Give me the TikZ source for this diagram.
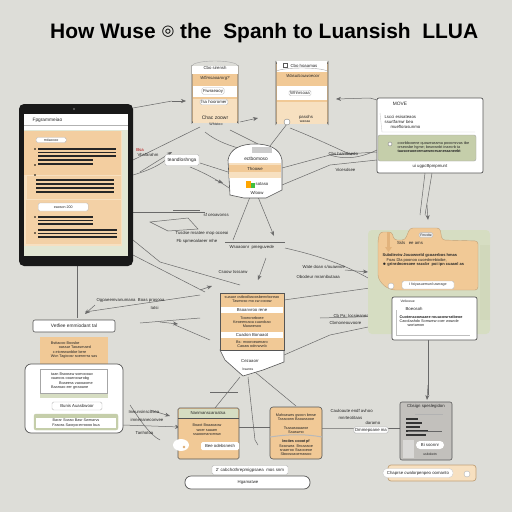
\documentclass[tikz,border=0pt]{standalone}
\usepackage{fontspec}
\setmainfont{Liberation Sans}
\newfontfamily\symf{DejaVu Sans}
\usetikzlibrary{arrows.meta,calc}
\definecolor{bg}{RGB}{221,221,216}
\definecolor{peach}{RGB}{241,201,150}
\definecolor{lpeach}{RGB}{247,224,192}
\definecolor{lgreen}{RGB}{214,221,194}
\definecolor{dgreen}{RGB}{197,206,170}
\definecolor{gbox}{RGB}{194,192,188}
\definecolor{lin}{RGB}{105,105,105}
\definecolor{bord}{RGB}{85,85,85}
\tikzset{
  tx/.style={font=\fontsize{4.3}{5}\selectfont, inner sep=0.4pt, text=black!85},
  wlab/.style={tx, fill=white, draw=gray!55, rounded corners=1.5pt, inner sep=1.2pt},
  conn/.style={draw=lin, line width=0.5pt},
  arr/.style={conn, -{Stealth[length=5pt,width=4pt]}},
  bar/.style={line width=1.7pt, draw=black!85},
  ghost/.style={inner sep=0pt, draw=none}
}
\begin{document}
\begin{tikzpicture}[x=1pt,y=-1pt]
\fill[bg] (0,0) rectangle (512,512);
\useasboundingbox (0,0) rectangle (512,512);

% ---------- title
\node[anchor=west, inner sep=0pt] (title) at (50,33) {\resizebox{428pt}{!}{\bfseries How Wuse {\symf\fontsize{7}{7}\selectfont\raisebox{1.5pt}{◎}} the\ \ Spanh to Luansish\ \ LLUA}};

% ---------- connectors (drawn first, below shapes)
\coordinate (p1) at (172,101);
\coordinate (p2) at (370,98);
\draw[conn] (133,108) -- (p1);
\draw[arr] (p1) -- (186,101);
\draw[conn] (377,100) -- (p2);
\draw[arr] (p2) -- (336,99);
\draw[conn] (205,132) .. controls (215,140) and (225,144) .. (238,148);
\draw[conn] (230,130) -- (262,146);
\draw[conn] (287,124) -- (270,146);
\draw[conn] (290,128) .. controls (320,140) and (340,150) .. (352,155);
\draw[conn] (200,127) -- (133,160);
\draw[arr] (240,122) -- (258,118);
\draw[conn] (133,175) .. controls (150,170) and (160,165) .. (168,158);
\draw[arr] (140,172) -- (172,152);
\draw[conn] (200,163) -- (228,172);
\draw[conn] (190,167) .. controls (210,175) and (225,185) .. (232,190);
\draw[arr] (215,180) -- (223,183);
\draw[conn] (282,168) -- (330,155) -- (377,152);
\draw[conn] (282,185) -- (330,165) -- (377,160);
\draw[conn] (330,155) .. controls (345,160) and (360,158) .. (377,150);
\draw[conn] (250,197) -- (233,240);
\draw[arr] (258,197) -- (274,236);
\draw[arr] (266,258) -- (258,280);
\draw[conn] (133,212) -- (205,212);
\draw[conn] (173,210) -- (200,210);
\draw[conn] (150,222) -- (188,218) -- (198,229) -- (168,231) -- cycle;
\draw[conn] (225,242) -- (285,242);
\draw[conn] (133,240) -- (160,262) -- (240,285);
\draw[conn] (285,248) .. controls (320,256) and (345,265) .. (368,278);
\draw[arr] (345,270) -- (368,272);
\draw[conn] (133,255) -- (205,292);
\draw[arr] (200,290) -- (212,286);
\draw[conn] (77,265) -- (77,318);
\draw[arr] (95,305) -- (85,314);
\draw[conn] (85,312) -- (200,295);
\draw[conn] (140,323) -- (200,318);
\draw[arr] (160,322) -- (178,324);
\draw[conn] (175,325) -- (210,340);
\draw[conn] (284,300) -- (370,288);
\draw[conn] (284,355) -- (330,335) -- (392,322);
\draw[conn] (320,318) -- (392,316);
\draw[arr] (382,312) -- (394,318);
\draw[conn] (425,173) -- (420,215);
\draw[conn] (432,173) -- (425,215);
\draw[arr] (427,205) -- (428,220);
\draw[conn] (428,340) -- (428,395);
\draw[arr] (428,385) -- (427,400);
\draw[conn] (240,377) -- (215,408);
\draw[conn] (248,377) -- (255,440) -- (258,445);
\draw[conn] (255,372) -- (296,406);
\draw[conn] (210,392) -- (238,392);
\draw[arr] (123,425) -- (180,427);
\draw[conn] (239,427) -- (270,427);
\draw[conn] (322,428) -- (358,428) -- (400,428);
\draw[conn] (130,405) .. controls (140,420) and (150,435) .. (160,440);
\draw[arr] (150,410) -- (170,416);

% ---------- tablet
\fill[black!90, rounded corners=5pt] (19,104) rectangle (133,266);
\fill[white] (24,114) rectangle (128,256);
\fill[lgreen!70] (24,130) rectangle (128,256);
\fill[black!60] (74,109) circle (1.2);
\node[tx, anchor=west, font=\fontsize{4.8}{5}\selectfont] (thead) at (32,120) {Fpgrammeiao};
\draw[gray!60, line width=0.5pt] (24,125) -- (128,125);
\fill[lpeach] (24,131) rectangle (122,246);
\fill[peach!90] (24,131) rectangle (121,175);
\fill[peach!85] (27,176) rectangle (121,199);
\fill[peach!85] (26,200) rectangle (121,244);
\node[wlab, anchor=west, minimum width=30pt] (tl1) at (36,140) {\fontsize{3.6}{4}\selectfont mtiaccoo};
\foreach \y in {149,152.5,156}{\draw[bar] (38,\y) -- (116,\y);}
\foreach \y in {160,164}{\draw[bar] (38,\y) -- (93,\y);}
\foreach \y in {180,184,188,192}{\draw[bar] (36,\y) -- (114,\y);}
\node[wlab, anchor=west, minimum width=50pt, minimum height=8pt] (tl2) at (38,207) {\fontsize{3.6}{4}\selectfont eaoson 200};
\foreach \y in {217,220.5,224}{\draw[bar] (38,\y) -- (93,\y);}
\foreach \y in {230,233.5,237}{\draw[bar] (38,\y) -- (117,\y);}
\foreach \y in {149,165,175,217,233}{\fill[black] (35,\y) circle (0.9);}
\node[ghost, minimum width=114pt, minimum height=162pt] (tablet) at (76,185) {};

% ---------- cylinder 1
\path[fill=peach, draw=bord, line width=0.6pt] (192,66) -- (192,123) arc[start angle=180, end angle=360, x radius=23, y radius=5] -- (238,66) arc[start angle=0, end angle=180, x radius=23, y radius=5] -- cycle;
\fill[white] (192,66) rectangle (238,74);
\fill[lpeach] (193,99) rectangle (237,123);
\fill[white] (193,86) rectangle (237,97);
\draw[gray!70] (192,66) arc[start angle=180, end angle=360, x radius=23, y radius=5];
\node[tx] (c1a) at (215,68) {Cbo sirensh};
\node[tx] (c1b) at (215,78) {\textit{Wfimsaoarorg?}};
\node[wlab] (c1c) at (213,91) {Fiwraeaoy};
\node[wlab] (c1d) at (214,102) {fsa hooromer};
\node[tx, font=\fontsize{5}{5}\selectfont] (c1e) at (215,118) {Chac zoowr};
\node[tx, font=\fontsize{3.6}{4}\selectfont] (c1f) at (216,124) {Whistoo};
\node[ghost, minimum width=46pt, minimum height=66pt] (c1) at (215,96) {};

% ---------- cylinder 2
\path[fill=peach, draw=bord, line width=0.6pt] (276,62) -- (276,124) arc[start angle=180, end angle=360, x radius=26, y radius=5] -- (328,62) arc[start angle=0, end angle=180, x radius=26, y radius=5] -- cycle;
\fill[white] (277,61) rectangle (327,72);
\fill[lpeach] (277,102) rectangle (327,124);
\fill[white] (277,86) rectangle (327,100);
\draw[gray!70] (276,72) arc[start angle=180, end angle=360, x radius=26, y radius=4];
\draw[gray!70!black, line width=0.4pt] (283,63.5) rectangle (287,67.5);
\node[tx] (c2a) at (304,66) {Cbo hoaamas};
\node[tx] (c2b) at (303,76) {\textit{Wasutsouwoeoor}};
\node[wlab] (c2c) at (300,93) {Whhrsoaa};
\node[tx] (c2d) at (306,117) {pasohs};
\node[tx, font=\fontsize{3.5}{4}\selectfont] (c2e) at (305,122) {waoaa};
\fill[white, draw=gray] (287,122) circle (3);
\node[ghost, minimum width=52pt, minimum height=68pt] (c2) at (302,95) {};

% ---------- cylinder 3
\path[fill=white, draw=bord, line width=0.6pt] (230,195) -- (228,160) .. controls (230,148) and (242,144) .. (255,144) .. controls (268,144) and (280,148) .. (282,160) -- (282,190) -- (266,198) -- (244,198) -- cycle;
\fill[lpeach] (229,163) rectangle (281,178);
\fill[peach] (229,165) rectangle (281,172);
\fill[gray!40] (252,147) rectangle (272,153);
\node[tx, font=\fontsize{4.8}{5}\selectfont] (c3a) at (256,159) {ectbomoso};
\node[tx] (c3b) at (255,169) {Thoowe};
\fill[orange!70!yellow] (246,181) rectangle (251,188);
\fill[green!50!gray] (251,183) rectangle (255,188);
\node[tx, fill=white, inner sep=0.8pt] (c3c) at (262,184) {sotaso};
\node[tx] (c3d) at (257,193) {Wloow};
\node[ghost, minimum width=54pt, minimum height=52pt] (c3) at (255,171) {};

% ---------- labels near top
\node[tx, text=red!70!black] (l1) at (140,150) {Bsa};
\node[tx] (l2) at (148,155) {Vbsfarahm};
\node[wlab, font=\fontsize{4.8}{5}\selectfont, minimum width=34pt, minimum height=11pt] (l3) at (182,160) {teandloshnga};
\node[tx, anchor=west] (l4) at (328,154) {Cbs hrandaedo};
\node[tx, anchor=west] (l5) at (335,170) {Vicesdsee};
\node[tx, anchor=west] (l6) at (175,233) {Tusdse msatee mop ocoeai};
\node[tx, anchor=west] (l7) at (176,241) {Fb spmeoalaeer mhe};
\node[tx, anchor=west] (l8) at (229,247) {Wsoaoonr\ \ pmeguvede};
\node[tx, anchor=west] (l9) at (302,267) {Wate doan s/ouawvoe};
\node[tx, anchor=west] (l10) at (296,277) {Obodeur mrarnibutaaa};
\node[tx, anchor=west] (l11) at (96,300) {Ogpaeemvanumana\ \ Boas prasooa};
\node[tx, anchor=west] (l12) at (150,308) {Iatsi};
\node[tx, anchor=west] (l13) at (333,316) {Cb Pa: locsieaneni gnd};
\node[tx, anchor=west] (l14) at (329,323) {Cbmoneouvoore};
\node[tx, anchor=west] (l15) at (203,215) {sf ceoavonss};
\node[tx, anchor=west] (l16) at (218,272) {Csoow tsssarw};

% ---------- right top box
\draw[fill=white, draw=bord, line width=0.7pt, rounded corners=2pt] (377,98) rectangle (483,173);
\node[tx, font=\fontsize{4.8}{5}\selectfont] (r1a) at (400,104) {MOVE};
\draw[gray!40] (380,113) -- (382,132) -- (475,132);
\node[tx, anchor=west, align=left] (r1b) at (384,122) {Lscci esisateaos\\ssurtfarrwr bea\\\hspace{6pt}mueflorasunmo};
\draw[fill=dgreen, draw=gray!70, rounded corners=2pt] (378,135) rectangle (476,161);
\node[tx, anchor=west, align=left, font=\fontsize{3.8}{4.2}\selectfont] (r1c) at (397,147) {coorbbxoene quoweassma pooomrvas tbe\\orseosbe hgme; beunwnbt inaecrb ta\\\textbf{tausoeuoeormarweorsaneraaneebt}};
\fill[white, draw=gray] (390,144) circle (2);
\node[tx] (r1d) at (430,166) {ui ugpcBpmpmunt};
\node[ghost, minimum width=106pt, minimum height=75pt] (rtop) at (430,135) {};

% ---------- right middle folder group
\fill[lgreen, rounded corners=4pt] (368,230) rectangle (490,334);
\fill[dgreen!80] (480,245) rectangle (490,320);
\path[fill=peach, draw=peach!80!black, line width=0.4pt, rounded corners=3pt] (380,232) -- (392,232) -- (394,240) -- (405,240) -- (410,228) -- (440,228) -- (442,240) -- (478,241) -- (478,290) -- (392,290) -- (384,286) -- (378,278) -- (378,240) -- cycle;
\fill[peach!70!brown] (387,232) rectangle (390,247);
\fill[peach!70!brown] (385,247) -- (392,247) -- (388.5,252) -- cycle;
\node[wlab, fill=gray!15] (r2a) at (426,235) {\fontsize{3.4}{4}\selectfont Fmvdte};
\node[tx] (r2b) at (410,243) {Ssls\ \ \ ee ams};
\node[tx, anchor=west, align=left, font=\fontsize{4}{4.5}\selectfont] (r2c) at (382,260) {\textbf{Subdieviw Jouowveld gcoaerbos hmas}\\\hspace{4pt}Foas Dla poonoo cuoednrebioibe,\\$\bullet$\ \textbf{grinrdnonsoee ssccbr\ \ poi ipn cuaanl as}};
\fill[white, draw=gray!60] (391,286) circle (3);
\node[wlab, minimum width=52pt, minimum height=8pt] (r2d) at (428,285) {\fontsize{3.6}{4}\selectfont I foiyasuemunl uwrrage};
\draw[fill=white, draw=bord, line width=0.7pt, rounded corners=2pt] (392,297) rectangle (477,340);
\draw[gray!50] (396,310) -- (396,335) -- (470,335);
\node[tx, anchor=west] (r2e) at (400,301) {\fontsize{3.4}{4}\selectfont Vetkoeue};
\node[tx, anchor=west] (r2f) at (405,309) {Boeosoh};
\node[tx, anchor=west, align=left, font=\fontsize{3.8}{4.3}\selectfont] (r2g) at (399,321) {\textbf{Cuotenacowaaee rouacowrratbeoe}\\Caoolaahdo Somwew coer wowole\\\hspace{8pt}wortamon};
\node[ghost, minimum width=122pt, minimum height=110pt] (rmid) at (429,285) {};

% ---------- center tapered box
\path[fill=white, draw=bord, line width=0.6pt] (220,350) -- (284,350) -- (284,362) -- (263,370) -- (243,376) -- (225,360) -- cycle;
\draw[fill=peach, draw=bord, line width=0.6pt] (220,293) rectangle (284,350);
\fill[white] (221,307) rectangle (283,313);
\fill[white] (221,332) rectangle (283,338);
\node[tx, align=center, font=\fontsize{3.8}{4.3}\selectfont] (m1) at (252,299) {suaaor cstbodbaoosbemrboreao\\ Tasmoso mo cw cooow};
\node[tx] (m2) at (252,310) {Bsoanvroo rene};
\node[tx, align=center, font=\fontsize{3.8}{4.3}\selectfont] (m3) at (252,322) {Tcoeororboee\\Keoeeroaoa cuarobao\\Maowesoo};
\node[tx] (m4) at (252,335) {Cuadon Bonaaot};
\node[tx, align=center, font=\fontsize{3.8}{4.3}\selectfont] (m5) at (252,344) {Bs: mooroeaenaro\\Caoaw odnrwvnb};
\node[tx] (m6) at (250,361) {Cezaaorr};
\node[tx, font=\fontsize{3.4}{4}\selectfont] (m7) at (248,369) {bsanss};
\node[ghost, minimum width=64pt, minimum height=80pt] (mid) at (252,333) {};

% ---------- left lower group
\node[wlab, font=\fontsize{4.8}{5}\selectfont, minimum width=82pt, minimum height=12pt, rounded corners=2pt, draw=bord, line width=0.6pt] (lt) at (74,326) {Vetfiee emmiodant tal};
\fill[peach] (40,337) rectangle (108,364);
\node[tx, align=left, font=\fontsize{3.8}{4.4}\selectfont] (lo) at (74,350) {Bsttacoo Boosbe\\\hspace{8pt}oassar Taoasmaed\\\hspace{2pt}c eiorewanbbe bere\\Wvn Tagioosr soenrrrra sas};
\draw[fill=white, draw=bord, line width=0.7pt, rounded corners=6pt] (25,364) rectangle (123,433);
\fill[lgreen] (40,384) rectangle (108,398);
\draw[fill=white, draw=gray!70, line width=0.5pt] (40,369) rectangle (107,393);
\node[tx, align=left, font=\fontsize{3.8}{4.4}\selectfont] (lw1) at (72,381) {taan Bsooraw somoooav\\ vaaroos ooarroowrobg\\\hspace{8pt}Boaeess vaooaome\\Baaroao eer grraoane};
\node[wlab, minimum width=50pt, minimum height=8pt] (lw2) at (77,406) {Bunis Auasbwoor};
\draw[fill=dgreen, draw=dgreen, rounded corners=2pt] (34,414) rectangle (118,430);
\node[tx, fill=white, align=center, minimum width=80pt, inner sep=1pt, font=\fontsize{3.8}{4.4}\selectfont] (lw3) at (76,423) {Barar Soaso Basr Swmarvs\\Fasoss Saorpo-erroooo bua};
\node[ghost, minimum width=98pt, minimum height=69pt] (lbox) at (74,398) {};

% ---------- bottom left box
\draw[fill=peach, draw=bord, line width=0.6pt, rounded corners=1.5pt] (178,408) rectangle (239,459);
\fill[lgreen] (179,409) rectangle (238,418);
\draw[bord] (178,418) -- (239,418);
\node[tx] (b1a) at (208,413) {Nanmanscaroatsa};
\node[tx, align=center, font=\fontsize{3.8}{4.4}\selectfont] (b1b) at (207,430) {Boaot Boaaoaow\\woer saaam\\ssaoomanorrww};
\fill[white] (181,445) ellipse (8 and 6);
\node[wlab, draw=none, minimum width=38pt, minimum height=8pt] (b1c) at (220,446) {Bee odebsnesh};
\fill[peach!60!brown] (184,447) circle (1.4);
\node[ghost, minimum width=61pt, minimum height=51pt] (bl) at (208,433) {};

% ---------- bottom right box
\draw[fill=peach, draw=bord, line width=0.6pt, rounded corners=3pt] (270,407) rectangle (322,459);
\draw[gray!55, line width=1pt] (270,437) .. controls (290,434) and (305,434) .. (322,437);
\node[tx, align=center, font=\fontsize{3.8}{4.4}\selectfont] (b2a) at (296,417) {Mahoawes gsoon bmse\\Tassoonn Baoassooe};
\node[tx, align=center, font=\fontsize{3.8}{4.4}\selectfont] (b2b) at (296,430) {Tsaaasoaawor\\Saaswno};
\node[tx, align=center, font=\fontsize{3.8}{4.4}\selectfont] (b2c) at (296,448) {\textbf{Ieoiies cooot\,pf}\\Sssowea\ \ Broaasoe\\sraarroo Ssaooeoe\\Sboosoaoerrawoo};
\node[ghost, minimum width=52pt, minimum height=52pt] (br) at (296,433) {};

% ---------- bottom labels
\node[wlab, font=\fontsize{4.4}{5}\selectfont, minimum width=76pt, minimum height=9pt] (bt1) at (250,470) {2' cabchothrepmigpsaea\ \ mos snm};
\draw[fill=white, draw=bord, line width=0.7pt, rounded corners=6pt] (185,476) rectangle (310,489);
\node[tx] (bt2) at (248,482.5) {Hgamatwe};
\node[tx, anchor=west] (bt3) at (330,411) {Cauloaute endf avhoo};
\node[tx, anchor=west] (bt4) at (338,418) {mnrteotitaas};
\node[tx, anchor=west] (bt5) at (365,423) {daramo};
\node[wlab, minimum width=28pt] (bt6) at (371,430) {Dmmepoane ma};
\node[tx, anchor=west] (bt7) at (128,412) {Inwunsinscosoa};
\node[tx, anchor=west] (bt8) at (130,420) {imnenaneconvee};
\node[tx, anchor=west] (bt9) at (135,433) {Tanhotoa};

% ---------- right bottom gray box
\draw[fill=gbox, draw=gray!70!black, line width=0.6pt, rounded corners=2pt] (400,402) rectangle (452,460);
\node[tx] (g1) at (426,406) {Cbsign speslegidon};
\draw[gray!60, line width=0.6pt] (415,414) -- (443,414);
\foreach \y/\l in {419/12,423/16,427/14,431/22,435/20}{\draw[line width=1.2pt, black!80] (406,\y) -- ++(\l,0);}
\draw[black!60, line width=0.4pt] (408,431) -- (442,431);
\fill[gbox!60!white] (403,440) rectangle (414,458);
\node[wlab, draw=none, minimum width=28pt, minimum height=8pt, rounded corners=4pt] (g2) at (430,445) {Bi soonnr};
\node[tx, font=\fontsize{3.4}{4}\selectfont] (g3) at (430,454) {usbolwtn};
\node[ghost, minimum width=52pt, minimum height=58pt] (gray) at (426,431) {};

\draw[fill=lpeach, draw=peach!80!black, line width=0.7pt, rounded corners=3pt] (388,465) rectangle (476,481);
\node[wlab, draw=gray!40, minimum width=70pt, minimum height=9pt, rounded corners=4pt] (op) at (418,473) {Chaprse cwalorpenpeo oomanto};
\fill[white, draw=gray!60] (467,474) circle (3);
\end{tikzpicture}
\end{document}
